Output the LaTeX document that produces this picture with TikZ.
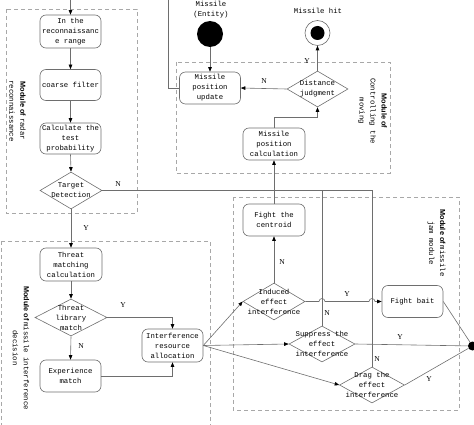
\documentclass[tikz,border=0pt]{standalone}
\usepackage{fontspec}
\setmainfont{Liberation Serif}
\setmonofont{Liberation Mono}
\setsansfont{Liberation Sans}
\usetikzlibrary{shapes.geometric,arrows.meta,calc}
\definecolor{linec}{HTML}{6E6E6E}
\definecolor{dashc}{HTML}{A8A8A8}
\tikzset{
  box/.style={draw=linec, line width=0.6pt, rounded corners=6pt, minimum width=61pt, minimum height=32pt,
    inner sep=1pt, align=center, font=\ttfamily\fontsize{7.3}{10}\selectfont, text=black},
  dia/.style={draw=linec, line width=0.6pt, shape=diamond, inner sep=0pt},
  dtext/.style={align=center, font=\ttfamily\fontsize{7.3}{10}\selectfont, inner sep=0pt},
  conn/.style={draw=linec, line width=0.6pt},
  arr/.style={conn, -{Triangle[length=4.5pt,width=3.5pt,color=black]}},
  yn/.style={font=\fontsize{7.5}{8}\selectfont, inner sep=0pt},
  modbox/.style={draw=dashc, dash pattern=on 4pt off 3pt, line width=0.6pt},
  modlab/.style={rotate=-90, align=center, inner sep=0pt, font=\fontsize{7.3}{11}\selectfont}
}
\newcommand{\bm}[1]{{\sffamily\bfseries #1}}
\begin{document}
\begin{tikzpicture}[x=1pt,y=-1pt]
\useasboundingbox (0,0) rectangle (474,425);
\clip (0,0) rectangle (474,425);

% module boxes
\draw[modbox] (6,9) rectangle (137,213);
\draw[modbox] (176,62) rectangle (390,173);
\draw[modbox] (1,241) rectangle (210,440);
\draw[modbox] (233,197) rectangle (459,410);

% module labels
\node[modlab] (labradar) at (17.5,111) {\bm{Module of} \ttfamily radar\\ \ttfamily reconnaissance};
\node[modlab] (labmove) at (372.5,111) {\bm{Module of}\\ \ttfamily Controlling the\\ \ttfamily moving};
\node[modlab] (labjam) at (436.5,243) {\bm{Module of} \ttfamily missile\\ \ttfamily jam module};
\node[modlab] (labdec) at (21,348) {\bm{Module of} \ttfamily missile interference\\ \ttfamily decision};

% radar module
\node[box, minimum height=33pt] (rec) at (70.5,31.5) {In the\\reconnaissanc\\e range};
\node[box, minimum height=31pt] (cf) at (70.5,85) {coarse filter};
\node[box, minimum height=31pt] (calc) at (70.5,138.5) {Calculate the\\test\\probability};
\node[dia, minimum width=62pt, minimum height=37pt] (td) at (71,190.5) {};
\node[dtext] (tdt) at (td) {Target\\Detection};

% decision module
\node[box, minimum width=62pt, minimum height=33pt] (tmc) at (71,264.5) {Threat\\matching\\calculation};
\node[dia, minimum width=72pt, minimum height=37pt] (tlm) at (71,317.5) {};
\node[dtext] (tlmt) at (tlm) {Threat\\library\\match};
\node[box] (em) at (70.5,376) {Experience\\match};
\node[box, minimum height=33pt] (ira) at (172.5,345.5) {Interference\\resource\\allocation};

% missile module
\node[circle, fill=black, minimum size=26pt, inner sep=0pt] (ent) at (210,34) {};
\node[dtext, font=\ttfamily\fontsize{7.3}{10.5}\selectfont] (entt) at (211,9.5) {Missile\\(Entity)};
\node[box] (mpu) at (210,88) {Missile\\position\\update};
\node[circle, draw=linec, line width=0.6pt, minimum size=25pt, inner sep=0pt] (hit) at (317.5,33) {};
\node[circle, fill=black, minimum size=14pt, inner sep=0pt] (hitin) at (hit) {};
\node[dtext] (hitt) at (318,11) {Missile hit};
\node[dia, minimum width=61pt, minimum height=36pt] (dj) at (317.5,89) {};
\node[dtext] (djt) at (dj) {Distance\\judgment};
\node[box, minimum width=62pt] (mpc) at (274,144) {Missile\\position\\calculation};

% jam module
\node[box, minimum width=62pt] (ftc) at (274,220) {Fight the\\centroid};
\node[dia, minimum width=62pt, minimum height=37pt] (ied) at (274,301.5) {};
\node[dtext] (iedt) at (ied) {Induced\\effect\\interference};
\node[box] (fb) at (412.5,301.5) {Fight bait};
\node[dia, minimum width=66pt, minimum height=36pt] (sup) at (322,344) {};
\node[dtext] (supt) at (sup) {Suppress the\\effect\\interference};
\node[dia, minimum width=65pt, minimum height=36pt] (drg) at (372,385) {};
\node[dtext] (drgt) at (drg) {Drag the\\effect\\interference};
\node[circle, fill=black, minimum size=9pt, inner sep=0pt] (dot) at (472.5,346) {};

% connectors
\coordinate (topA) at (168,-5);
\coordinate (topB) at (70.5,-5);
\draw[arr] (mpu.west) -| (topA) -- (topB) -- (rec.north);
\draw[arr] (rec.south) -- (cf.north);
\draw[arr] (cf.south) -- (calc.north);
\draw[arr] (calc.south) -- (td.north);
\draw[arr] (td.south) -- (tmc.north);
\node[yn] (ytd) at (86,228) {Y};
\draw[conn] (td.east) -- (td.east -| drg.north) -- (drg.north);
\node[yn] (ntd) at (118,184) {N};
\draw[conn] (sup.north) -- (sup.north |- td.east);
\node[yn] (nsup) at (327,313) {N};
\node[yn] (ndrg) at (377,359) {N};
\draw[arr] (ftc.north) -- (mpc.south);

\draw[arr] (tmc.south) -- (tlm.north);
\draw[arr] (tlm.east) -| (ira.north);
\node[yn] (ytlm) at (123,305) {Y};
\draw[arr] (tlm.south) -- (em.north);
\node[yn] (ntlm) at (81,346) {N};
\draw[arr] (em.east) -| (ira.south);

\draw[arr] (ent.south) -- (mpu.north);
\draw[arr] (dj.west) -- (mpu.east);
\node[yn] (ndj) at (264,81) {N};
\draw[arr] (dj.north) -- (hit.south);
\node[yn] (ydj) at (307,61) {Y};
\draw[arr] (mpc.north) -- ++(0,-10) -| (dj.south);

\draw[arr] (ira.east) -- (ied.west);
\draw[arr] (ira.east) -- (sup.west);
\draw[arr] (ira.east) -- (drg.west);
\draw[arr] (ied.north) -- (ftc.south);
\node[yn] (nied) at (282,262) {N};
\draw[arr] (ied.east) -- ($(ied.east -| sup.north)+(-3,0)$) arc[start angle=180, end angle=0, radius=3pt]
   -- ($(ied.east -| drg.north)+(-3,0)$) arc[start angle=180, end angle=0, radius=3pt] -- (fb.west);
\node[yn] (yied) at (347,294) {Y};
\draw[conn] (sup.east) -- (dot);
\node[yn] (ysup) at (400,337) {Y};
\draw[conn] (drg.east) -- (dot);
\node[yn] (ydrg) at (429,379) {Y};
\draw[conn] (fb.east) -- (dot);
\end{tikzpicture}
\end{document}
